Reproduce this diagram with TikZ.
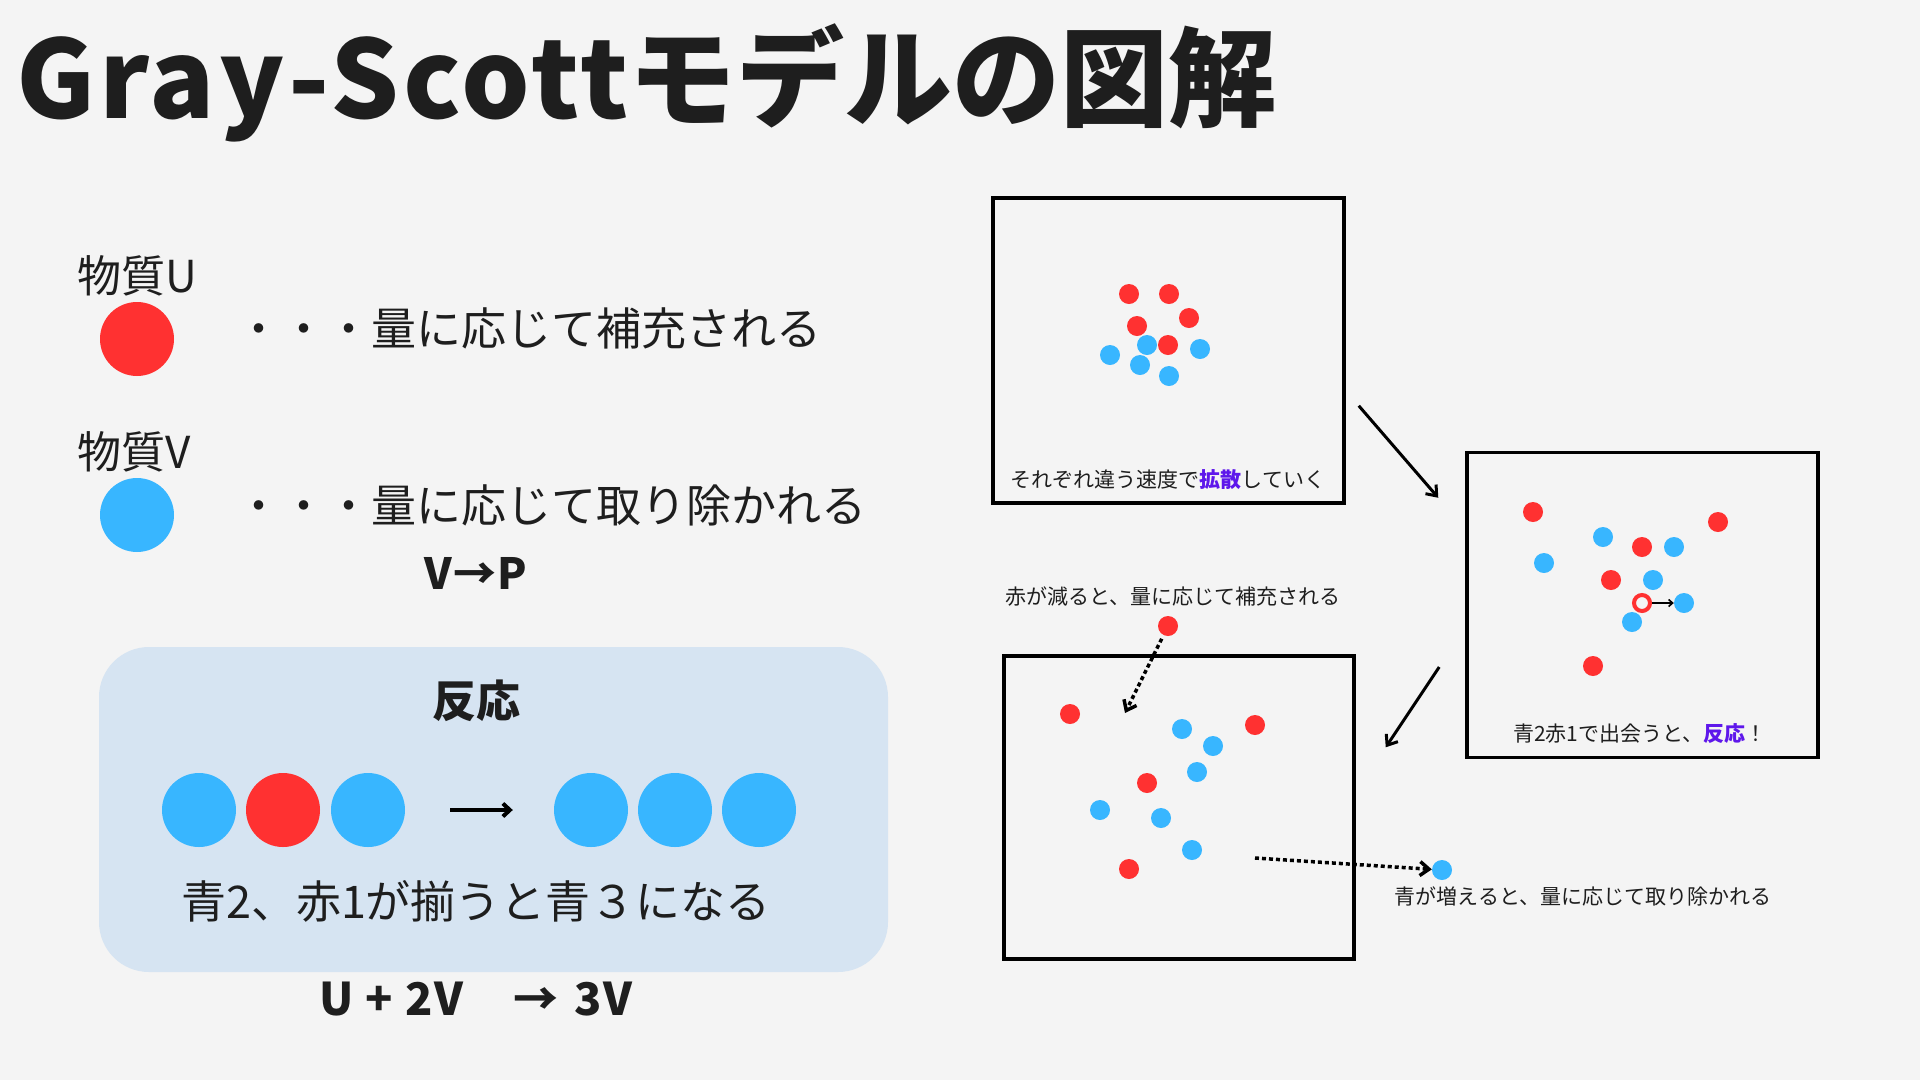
\documentclass[tikz,border=0pt]{standalone}
\usepackage{fontspec}
\setmainfont{Noto Sans CJK JP}
\usetikzlibrary{arrows.meta}
\definecolor{bgc}{HTML}{F4F4F4}
\definecolor{ink}{HTML}{1E1E1E}
\definecolor{ured}{HTML}{FF3131}
\definecolor{vblue}{HTML}{38B6FF}
\definecolor{panel}{HTML}{D6E4F2}
\definecolor{accent}{HTML}{5E17EB}
\tikzset{>={Straight Barb[length=9pt,width=14pt]},
  txt/.style={inner sep=0pt,text=ink},
  ball/.style={circle,inner sep=0pt,minimum size=20pt},
  rb/.style={ball,fill=ured},
  bb/.style={ball,fill=vblue},
  bigr/.style={rb,minimum size=74pt},
  bigb/.style={bb,minimum size=74pt},
  frame/.style={draw=black,line width=3.5pt,minimum width=351pt,minimum height=305pt,inner sep=0pt},
  captxt/.style={txt,font=\fontsize{21}{24}\selectfont},
  dots/.style={->,line width=3.5pt,dash pattern=on 4pt off 3pt}}

\begin{document}
\begin{tikzpicture}[x=1pt,y=-1pt]
\fill[bgc] (0,0) rectangle (1920,1080);
\useasboundingbox (0,0) rectangle (1920,1080);

% title
\node[txt,anchor=base west,font=\fontsize{108}{110}\selectfont\bfseries] (title) at (16,118) {{\addfontfeature{LetterSpace=3.7}Gray-Scott}モデルの図解};

% legend
\node[txt,anchor=west,font=\fontsize{44}{48}\selectfont] (labu) at (77,276) {物質U};
\node[bigr] (u) at (137,339) {};
\node[txt,anchor=west,font=\fontsize{45}{50}\selectfont] (textu) at (236,328) {・・・量に応じて補充される};
\node[txt,anchor=west,font=\fontsize{44}{48}\selectfont] (labv) at (77,452) {物質V};
\node[bigb] (v) at (137,515) {};
\node[txt,anchor=west,font=\fontsize{45}{50}\selectfont] (textv) at (236,505) {・・・量に応じて取り除かれる};
\node[txt,font=\fontsize{43}{46}\selectfont\bfseries] (vp) at (476,573) {{\addfontfeature{LetterSpace=3}V→P}};

% reaction panel
\fill[panel,rounded corners=50pt] (99,647) rectangle (888,972);
\node[txt,font=\fontsize{44}{48}\selectfont\bfseries] (hanno) at (476,701) {反応};
\node[bigb] (c1) at (199,810) {};
\node[bigr] (c2) at (283,810) {};
\node[bigb] (c3) at (368,810) {};
\node[bigb] (c4) at (591,810) {};
\node[bigb] (c5) at (675,810) {};
\node[bigb] (c6) at (759,810) {};
\draw[->,line width=4pt,>={Straight Barb[length=7pt,width=13pt]}] ([xshift=45pt]c3.east) -- ([xshift=-41pt]c4.west);
\node[txt,font=\fontsize{45}{50}\selectfont] (rule) at (476,901) {青2、赤1が揃うと青３になる};
\node[txt,font=\fontsize{45}{48}\selectfont\bfseries] (eq) at (476,999) {{\addfontfeature{LetterSpace=4}U + 2V}\hspace{50pt}→\hspace{16pt}{\addfontfeature{LetterSpace=4}3V}};

% box 1: diffusion
\node[frame] (b1) at (1168.5,350.5) {};
\foreach \p [count=\i] in {(1129,294),(1169,294),(1189,318),(1137,326),(1168,345)}
  \node[rb] (ra\i) at \p {};
\foreach \p [count=\i] in {(1147,345),(1110,355),(1140,365),(1200,349),(1169,376)}
  \node[bb] (ba\i) at \p {};
\node[captxt] (capa) at (1168,480) {それぞれ違う速度で{\bfseries\color{accent}拡散}していく};

% box 2: reaction
\node[frame] (b2) at (1642.5,605) {};
\foreach \p [count=\i] in {(1533,512),(1718,522),(1642,547),(1611,580),(1593,666)}
  \node[rb] (rb\i) at \p {};
\foreach \p [count=\i] in {(1603,537),(1544,563),(1674,547),(1653,580),(1684,603),(1632,622)}
  \node[bb] (bb\i) at \p {};
\node[circle,draw=ured,fill=bgc,line width=4pt,minimum size=16pt,inner sep=0pt] (ring) at (1642,603) {};
\draw[->,line width=1.6pt,>={Straight Barb[length=4pt,width=7pt]}] (ring) -- (bb5);
\node[captxt] (capb) at (1640,734) {青2赤1で出会うと、{\bfseries\color{accent}反応}！};

% box 3: feed and kill
\node[frame,minimum height=303pt,minimum width=350pt] (b3) at (1179,807.5) {};
\foreach \p [count=\i] in {(1070,714),(1255,725),(1147,783),(1129,869)}
  \node[rb] (rc\i) at \p {};
\foreach \p [count=\i] in {(1182,729),(1213,746),(1197,772),(1100,810),(1161,818),(1192,850)}
  \node[bb] (bc\i) at \p {};

\node[captxt] (capfeed) at (1173,597) {赤が減ると、量に応じて補充される};
\node[rb] (feed) at (1168,626) {};
\coordinate (feedend) at (1125,713);
\draw[dots,shorten <=4pt] (feed) -- (feedend);

\coordinate (killstart) at (1255,858);
\node[bb] (kill) at (1442,870) {};
\draw[dots] (killstart) -- (kill);
\node[captxt] (capkill) at (1583,896) {青が増えると、量に応じて取り除かれる};

% steps
\draw[->,line width=3pt] ([shift={(13,-99)}]b1.south east) -- ([shift={(-27,47)}]b2.north west);
\draw[->,line width=3pt] ([shift={(-26,62)}]b2.west) -- ([shift={(30,93)}]b3.north east);
\end{tikzpicture}
\end{document}
